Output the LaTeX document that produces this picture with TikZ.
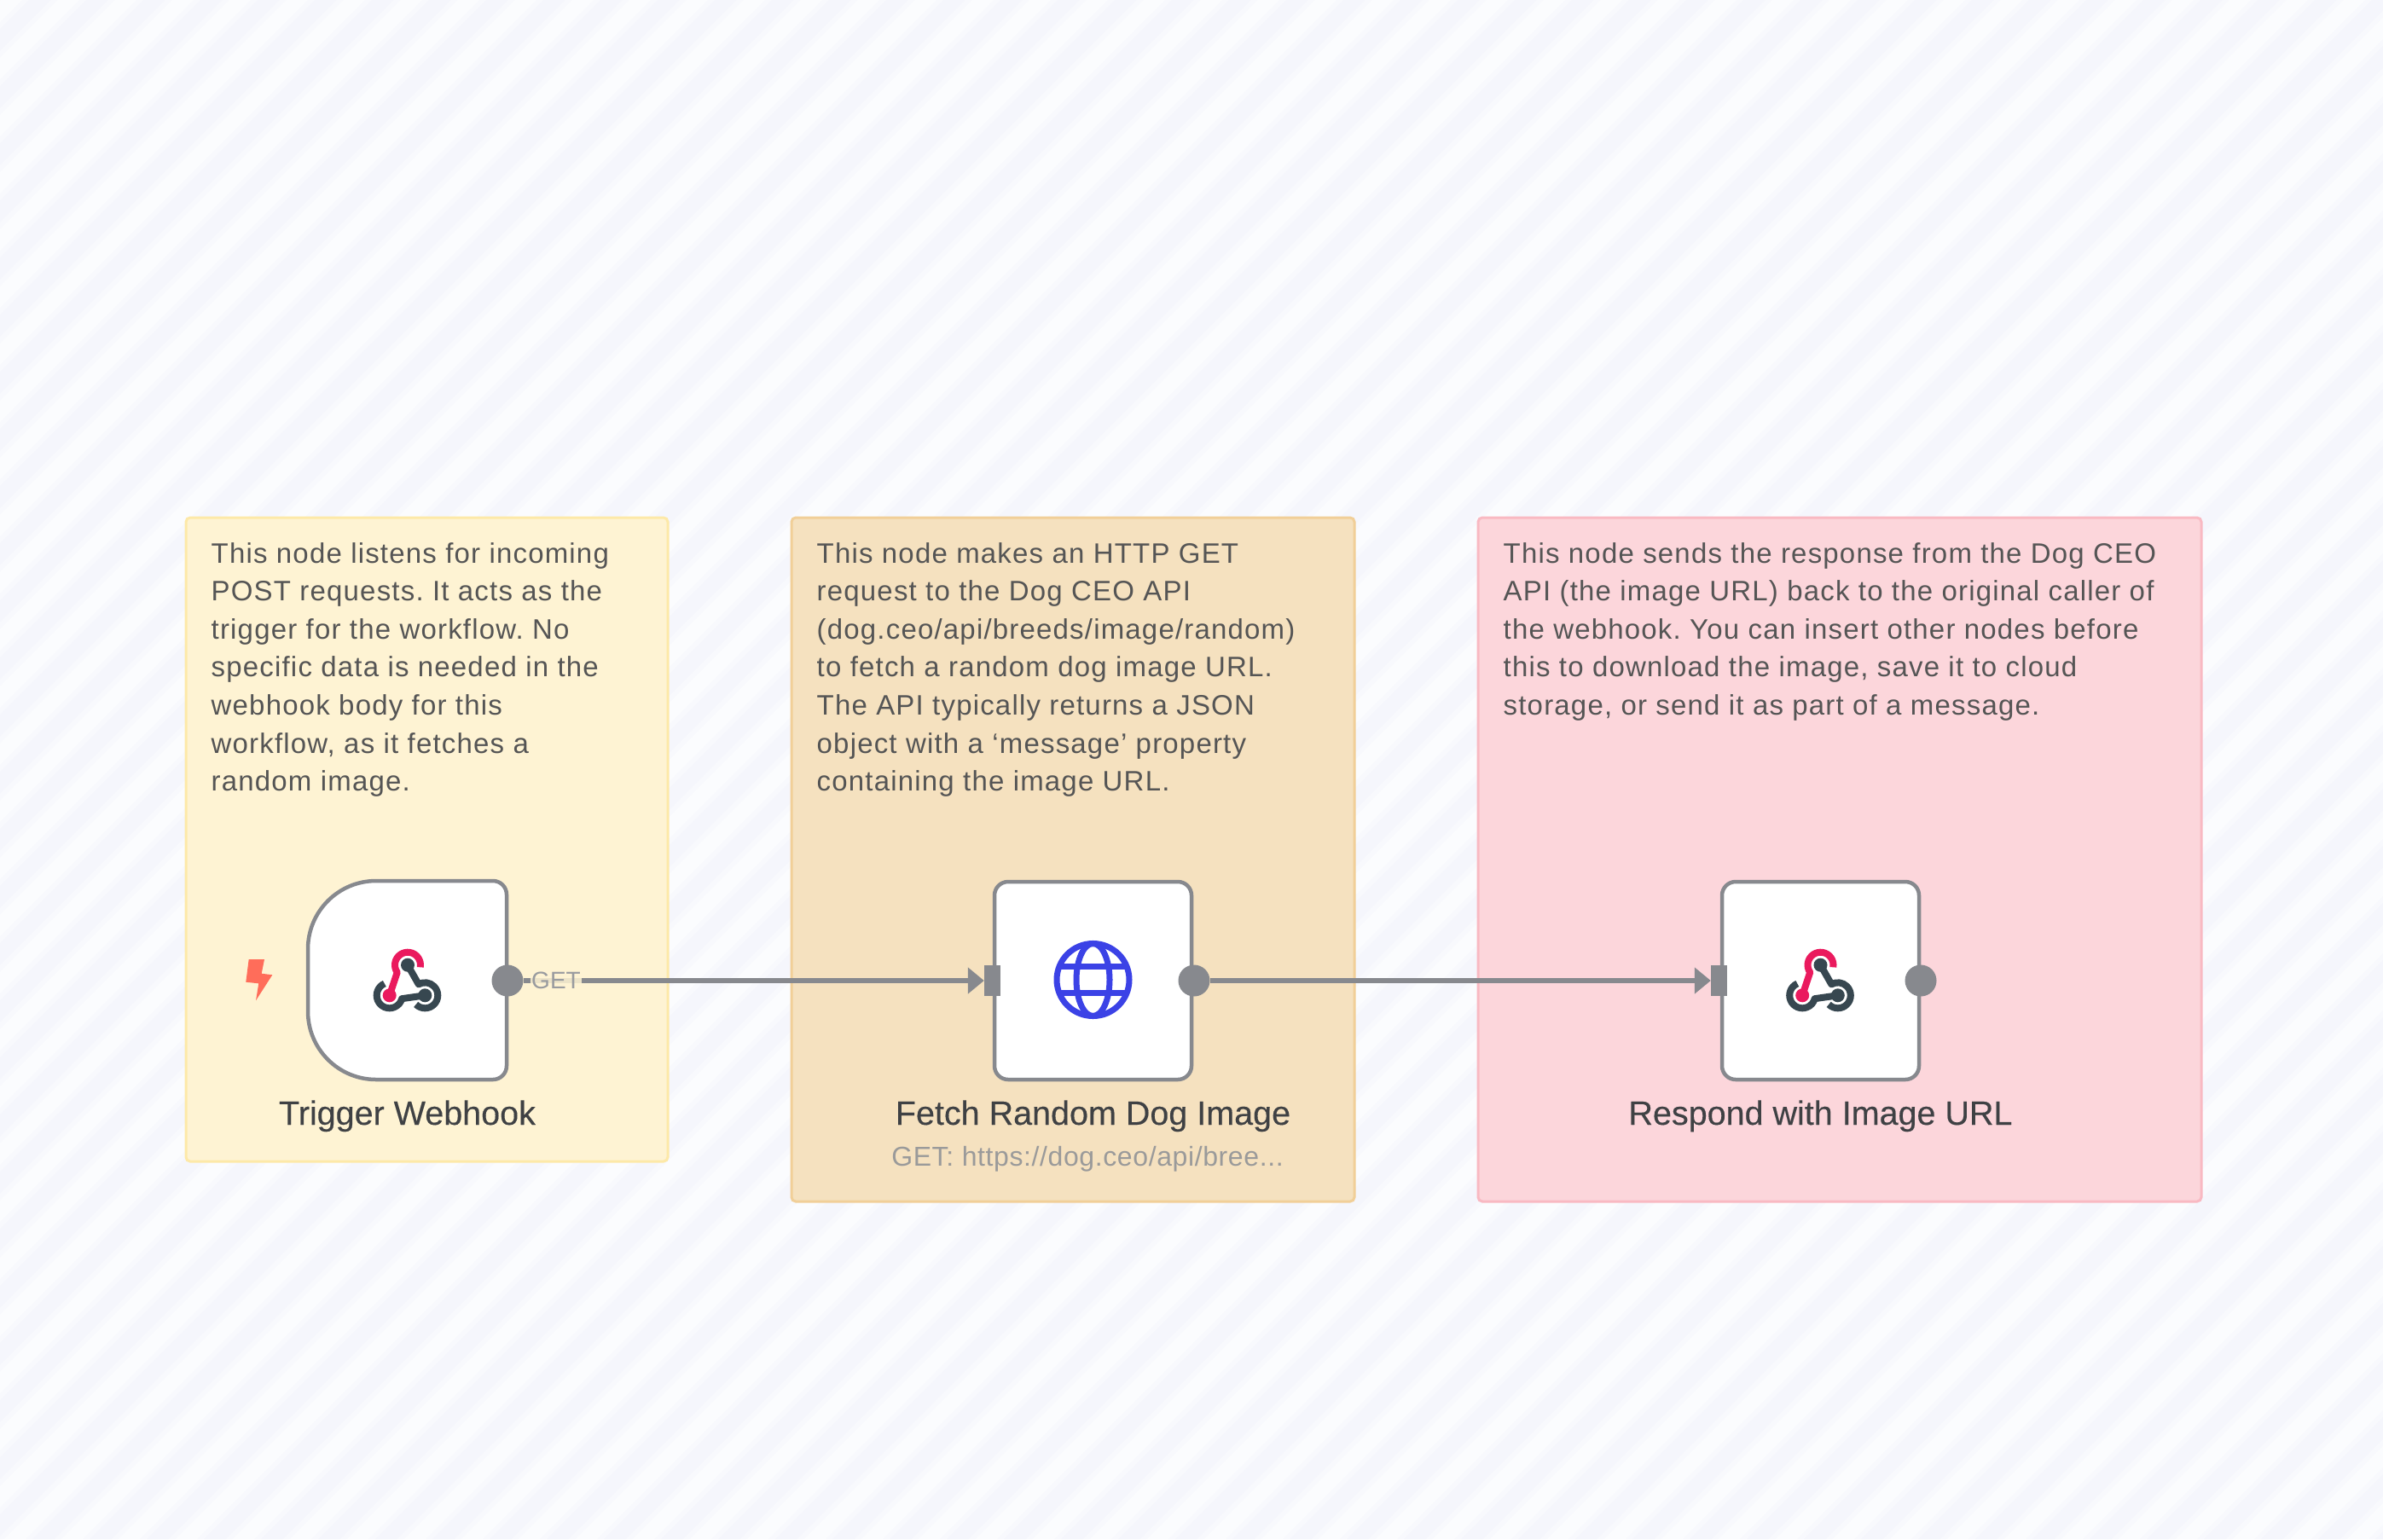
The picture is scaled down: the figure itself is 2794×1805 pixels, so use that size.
\documentclass[tikz,border=0pt]{standalone}
\usepackage{fontspec}
\setmainfont{Liberation Sans}
\usetikzlibrary{arrows.meta,calc}
\frenchspacing
\definecolor{bgbase}{HTML}{FBFCFE}
\definecolor{bgmid}{HTML}{F8F9FD}
\definecolor{bgstripe}{HTML}{F5F6FC}
\definecolor{edgegray}{HTML}{87898E}
\definecolor{notetext}{HTML}{555555}
\definecolor{labeltext}{HTML}{3F4144}
\definecolor{subtext}{HTML}{9A9A9A}
\definecolor{yfill}{HTML}{FEF3D3}
\definecolor{yline}{HTML}{FDE9A8}
\definecolor{ofill}{HTML}{F5E1BF}
\definecolor{oline}{HTML}{F1CF98}
\definecolor{rfill}{HTML}{FCD6DB}
\definecolor{rline}{HTML}{F9B9C2}
\definecolor{hookpink}{HTML}{EA1A5E}
\definecolor{hookdark}{HTML}{374750}
\definecolor{globeblue}{HTML}{3B42E6}
\definecolor{boltred}{HTML}{FF6D5A}
\tikzset{
  x=1pt,y=1pt,
  note/.style={rounded corners=5pt,line width=3pt},
  notetxt/.style={anchor=north west,inner sep=0pt,align=left,text=notetext,font=\addfontfeatures{LetterSpace=3.6}\fontsize{33}{44.6}\selectfont},
  wfbox/.style={draw=edgegray,fill=white,line width=4.5pt,rounded corners=16pt},
  outport/.style={circle,fill=edgegray,inner sep=0pt,minimum size=37pt},
  inport/.style={rectangle,fill=edgegray,inner sep=0pt,minimum width=19pt,minimum height=36pt},
  conn/.style={draw=edgegray,line width=5.5pt,-{Triangle[length=19pt,width=30pt]}},
  wflabel/.style={inner sep=0pt,anchor=base,text=labeltext,font=\addfontfeatures{FakeBold=0.25}\fontsize{39.5}{46}\selectfont},
  hook/.pic={
    \draw[hookpink,line width=8pt,line join=round] (15*cos -10,18.3+15*sin -10) arc[start angle=-10,end angle=215,radius=15] -- (-21.3,-17.3);
    \draw[hookdark,line width=8pt,line join=round] (-21.3+15*cos 113,-17.3+15*sin 113) arc[start angle=113,end angle=345,radius=15] -- (20.3,-17.3);
    \draw[hookdark,line width=8pt,line join=round] (20.3+15*cos 225,-17.3+15*sin 225) arc[start angle=225,end angle=480,radius=15] -- (0,18.3);
    \fill[hookdark] (0,18.3) circle[radius=8] (20.3,-17.3) circle[radius=8];
    \fill[hookpink] (-21.3,-17.3) circle[radius=8];
  },
}
\begin{document}
\begin{tikzpicture}
\useasboundingbox (0,0) rectangle (2794,-1805);
% background
\fill[bgbase] (0,0) rectangle (2794,-1805);
\begin{scope}
\clip (0,0) rectangle (2794,-1805);
\foreach \k in {-2,...,70}{
  \pgfmathsetmacro\c{97+67*\k}
  \fill[bgmid] (\c-4,0) -- (\c+37,0) -- (\c+37-1805,-1805) -- (\c-4-1805,-1805) -- cycle;
  \fill[bgstripe] (\c+4,0) -- (\c+29,0) -- (\c+29-1805,-1805) -- (\c+4-1805,-1805) -- cycle;
}
\end{scope}
% notes
\filldraw[note,fill=yfill,draw=yline] (218,-607) rectangle (783,-1362);
\filldraw[note,fill=ofill,draw=oline] (928,-607) rectangle (1588,-1409);
\filldraw[note,fill=rfill,draw=rline] (1733,-607) rectangle (2581,-1409);
\node[notetxt] (n1) at (247.5,-636) {This node listens for incoming\\POST requests. It acts as the\\trigger for the workflow. No\\specific data is needed in the\\webhook body for this\\workflow, as it fetches a\\random image.};
\node[notetxt] (n2) at (957.5,-636) {This node makes an HTTP GET\\request to the Dog CEO API\\(dog.ceo/api/breeds/image/random)\\to fetch a random dog image URL.\\The API typically returns a JSON\\object with a ‘message’ property\\containing the image URL.};
\node[notetxt] (n3) at (1762.5,-636) {This node sends the response from the Dog CEO\\API (the image URL) back to the original caller of\\the webhook. You can insert other nodes before\\this to download the image, save it to cloud\\storage, or send it as part of a message.};
% boxes
\draw[wfbox,rounded corners=0pt,fill=white] (441,-1033) -- (578,-1033) arc[start angle=90,end angle=0,radius=16] -- (594,-1250) arc[start angle=0,end angle=-90,radius=16] -- (441,-1266) arc[start angle=270,end angle=180,radius=80] -- (361,-1113) arc[start angle=180,end angle=90,radius=80] -- cycle;
\node[wfbox,minimum width=231pt,minimum height=232pt,inner sep=0pt] (fetch) at (1281.5,-1150) {};
\node[wfbox,minimum width=231pt,minimum height=232pt,inner sep=0pt] (respond) at (2134.5,-1150) {};
% ports
\node[outport] (out1) at (595,-1150) {};
\node[inport] (in2) at (1163.5,-1150) {};
\node[outport] (out2) at (1400,-1150) {};
\node[inport] (in3) at (2015.5,-1150) {};
\node[outport] (out3) at (2252,-1150) {};
% connectors
\draw[conn] (out1) -- (in2);
\draw[conn] (out2) -- (in3);
\node[fill=yfill,fill opacity=.85,text opacity=1,text=edgegray!85!white,inner sep=1pt,font=\fontsize{28}{30}\selectfont] (get) at (652,-1150) {GET};
% icons
\pic at (478,-1150) {hook};
\pic at (2134.5,-1150) {hook};
\begin{scope}[shift={(1281.5,-1149)},line width=7pt,draw=globeblue]
\draw (0,0) circle[radius=42.5];
\draw (0,0) ellipse[x radius=19.5,y radius=42.5];
\draw (-39.6,15.5) -- (39.6,15.5);
\draw (-39.6,-15.5) -- (39.6,-15.5);
\end{scope}
\fill[boltred] (291.7,-1125) -- (310,-1125) -- (306.7,-1141.7) -- (319.3,-1143.3) -- (300,-1173.3) -- (303.3,-1153.3) -- (288.3,-1151.7) -- cycle;
% labels
\node[wflabel] (l1) at (477.5,-1319) {Trigger Webhook};
\node[wflabel] (l2) at (1281.5,-1319) {Fetch Random Dog Image};
\node[wflabel] (l3) at (2134.5,-1319) {Respond with Image URL};
\node[inner sep=0pt,anchor=base,text=subtext,font=\addfontfeatures{LetterSpace=1.9}\fontsize{32}{36}\selectfont] (s2) at (1275,-1367) {GET: https://dog.ceo/api/bree...};
\end{tikzpicture}
\end{document}
